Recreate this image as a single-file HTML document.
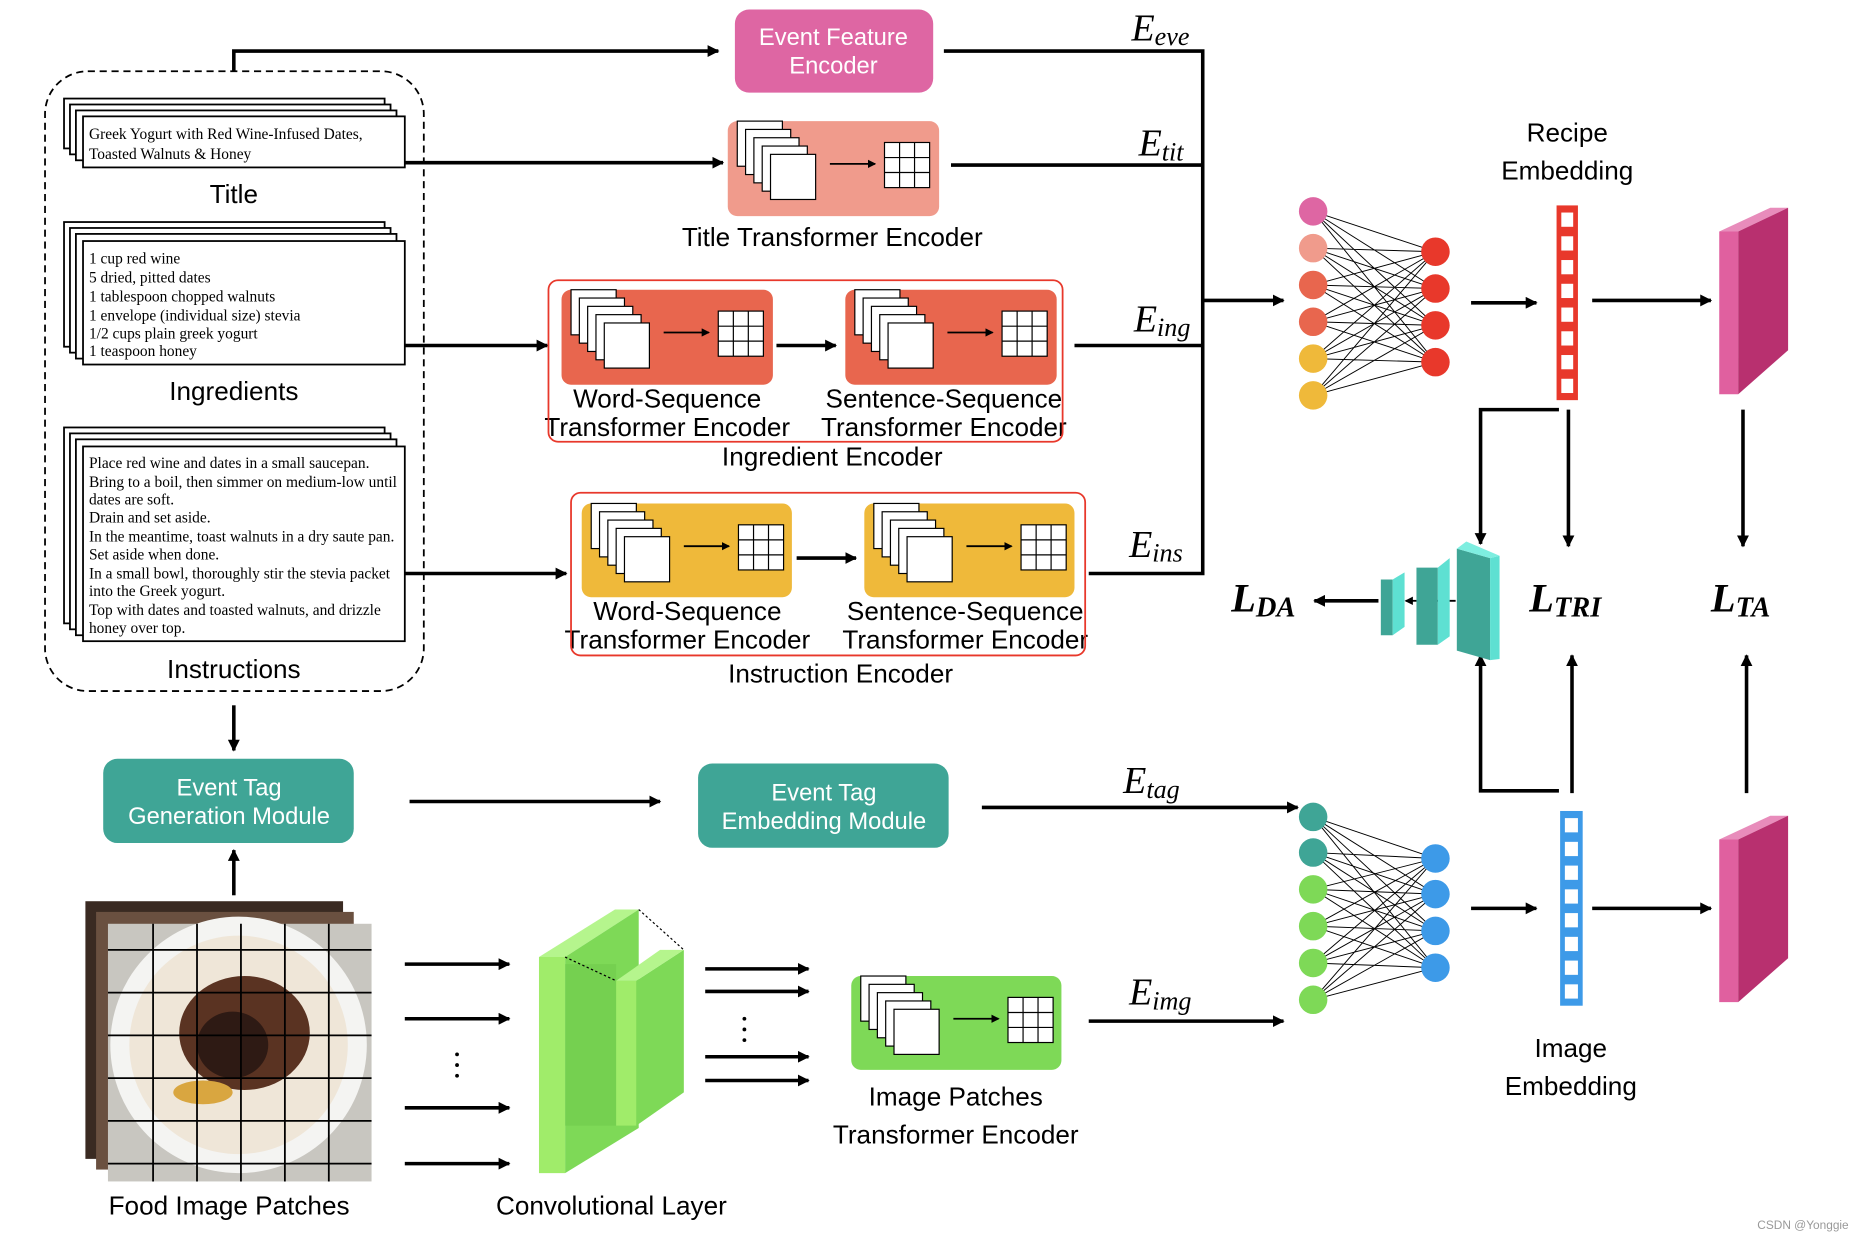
<!DOCTYPE html>
<html><head><meta charset="utf-8"><style>
html,body{margin:0;padding:0;background:#fff}
svg{display:block}
text{font-family:"Liberation Sans",sans-serif}
.s text{font-family:"Liberation Serif",serif}
text.e{font-family:"Liberation Serif",serif;font-style:italic;font-size:32px}
text.L{font-family:"Liberation Serif",serif;font-style:italic;font-weight:bold;font-size:34px}
</style></head><body>
<svg width="1864" height="1242" viewBox="0 0 1568 1046" xmlns="http://www.w3.org/2000/svg">
<defs>
<marker id="a" markerWidth="10" markerHeight="10" refX="9" refY="5" orient="auto" markerUnits="userSpaceOnUse"><path d="M0,0 L10,5 L0,10 z" fill="#000"/></marker>
<marker id="as" markerWidth="7" markerHeight="7" refX="6" refY="3.5" orient="auto" markerUnits="userSpaceOnUse"><path d="M0,0 L7,3.5 L0,7 z" fill="#000"/></marker>
<g id="enc">
<rect x="8" y="6" width="38" height="38" fill="#fff" stroke="#000"/>
<rect x="15" y="13" width="38" height="38" fill="#fff" stroke="#000"/>
<rect x="22" y="20" width="38" height="38" fill="#fff" stroke="#000"/>
<rect x="29" y="27" width="38" height="38" fill="#fff" stroke="#000"/>
<rect x="36" y="34" width="38" height="38" fill="#fff" stroke="#000"/>
<line x1="86" y1="42" x2="124" y2="42" stroke="#000" stroke-width="1.5" marker-end="url(#as)"/>
<rect x="132" y="24" width="38" height="38" fill="#fff" stroke="#000"/>
<path d="M144.7,24v38M157.3,24v38M132,36.7h38M132,49.3h38" stroke="#000"/>
</g>
</defs>
<g stroke="#000" stroke-width="3" fill="none">
<polyline points="196,60 196,43 604,43" marker-end="url(#a)"/>
<line x1="340" y1="137" x2="608" y2="137" marker-end="url(#a)"/>
<line x1="340" y1="291" x2="460" y2="291" marker-end="url(#a)"/>
<line x1="340" y1="483" x2="476" y2="483" marker-end="url(#a)"/>
<line x1="653" y1="291" x2="703" y2="291" marker-end="url(#a)"/>
<line x1="670" y1="470" x2="720" y2="470" marker-end="url(#a)"/>
<polyline points="794,43 1012,43 1012,483 916,483"/>
<line x1="800" y1="139" x2="1012" y2="139"/>
<line x1="904" y1="291" x2="1012" y2="291"/>
<line x1="1012" y1="253" x2="1080" y2="253" marker-end="url(#a)"/>
<line x1="1238" y1="255" x2="1293" y2="255" marker-end="url(#a)"/>
<line x1="1340" y1="253" x2="1440" y2="253" marker-end="url(#a)"/>
<line x1="1238" y1="765" x2="1293" y2="765" marker-end="url(#a)"/>
<line x1="1340" y1="765" x2="1440" y2="765" marker-end="url(#a)"/>
<line x1="196" y1="594" x2="196" y2="632" marker-end="url(#a)"/>
<line x1="196" y1="754" x2="196" y2="716" marker-end="url(#a)"/>
<line x1="344" y1="675" x2="555" y2="675" marker-end="url(#a)"/>
<line x1="826" y1="680" x2="1092" y2="680" marker-end="url(#a)"/>
<line x1="916" y1="860" x2="1080" y2="860" marker-end="url(#a)"/>
<line x1="340" y1="812" x2="428" y2="812" marker-end="url(#a)"/>
<line x1="340" y1="858" x2="428" y2="858" marker-end="url(#a)"/>
<line x1="340" y1="933" x2="428" y2="933" marker-end="url(#a)"/>
<line x1="340" y1="980" x2="428" y2="980" marker-end="url(#a)"/>
<line x1="593" y1="816" x2="680" y2="816" marker-end="url(#a)"/>
<line x1="593" y1="835" x2="680" y2="835" marker-end="url(#a)"/>
<line x1="593" y1="890" x2="680" y2="890" marker-end="url(#a)"/>
<line x1="593" y1="910" x2="680" y2="910" marker-end="url(#a)"/>
<polyline points="1312,345 1246,345 1246,458" marker-end="url(#a)"/>
<line x1="1320" y1="345" x2="1320" y2="460" marker-end="url(#a)"/>
<line x1="1467" y1="345" x2="1467" y2="460" marker-end="url(#a)"/>
<polyline points="1312,666 1246,666 1246,552" marker-end="url(#a)"/>
<line x1="1323" y1="668" x2="1323" y2="552" marker-end="url(#a)"/>
<line x1="1470" y1="668" x2="1470" y2="552" marker-end="url(#a)"/>
<line x1="1160" y1="506" x2="1106" y2="506" marker-end="url(#a)"/>
</g>
<g stroke="#000" stroke-width="1.5"><line x1="1225" y1="506" x2="1200" y2="506" marker-end="url(#as)"/><line x1="1192" y1="506" x2="1183" y2="506" marker-end="url(#as)"/></g>
<g fill="#000"><circle cx="384" cy="888" r="1.6"/><circle cx="384" cy="897" r="1.6"/><circle cx="384" cy="906" r="1.6"/><circle cx="626" cy="858" r="1.6"/><circle cx="626" cy="867" r="1.6"/><circle cx="626" cy="876" r="1.6"/></g>

<rect x="37" y="60" width="319" height="522" rx="36" fill="none" stroke="#000" stroke-width="1.5" stroke-dasharray="6,4"/>
<g fill="#fff" stroke="#000" stroke-width="1.5">
<rect x="53" y="83" width="270" height="42"/><rect x="58" y="88" width="270" height="42"/><rect x="63" y="93" width="270" height="42"/><rect x="69" y="98" width="271" height="43"/>
<rect x="53" y="187" width="270" height="105"/><rect x="58" y="192" width="270" height="105"/><rect x="63" y="197" width="270" height="105"/><rect x="69" y="203" width="271" height="104"/>
<rect x="53" y="360" width="270" height="165"/><rect x="58" y="365" width="270" height="165"/><rect x="63" y="370" width="270" height="165"/><rect x="69" y="376" width="271" height="164"/>
</g>
<g class="s" font-size="13" fill="#000">
<text x="74" y="117">Greek Yogurt with Red Wine-Infused Dates,</text><text x="74" y="134">Toasted Walnuts &amp; Honey</text>
<text x="74" y="222">1 cup red wine</text><text x="74" y="238">5 dried, pitted dates</text><text x="74" y="254">1 tablespoon chopped walnuts</text><text x="74" y="270">1 envelope (individual size) stevia</text><text x="74" y="285">1/2 cups plain greek yogurt</text><text x="74" y="300">1 teaspoon honey</text>
<text x="74" y="394">Place red wine and dates in a small saucepan.</text><text x="74" y="410">Bring to a boil, then simmer on medium-low until</text><text x="74" y="425">dates are soft.</text><text x="74" y="440">Drain and set aside.</text><text x="74" y="456">In the meantime, toast walnuts in a dry saute pan.</text><text x="74" y="471">Set aside when done.</text><text x="74" y="487">In a small bowl, thoroughly stir the stevia packet</text><text x="74" y="502">into the Greek yogurt.</text><text x="74" y="518">Top with dates and toasted walnuts, and drizzle</text><text x="74" y="533">honey over top.</text>
</g>
<g font-size="22" text-anchor="middle" fill="#000">
<text x="196" y="171">Title</text><text x="196" y="337">Ingredients</text><text x="196" y="571">Instructions</text>
<text x="700" y="207">Title Transformer Encoder</text>
<text x="561" y="343">Word-Sequence</text><text x="561" y="367">Transformer Encoder</text>
<text x="794" y="343">Sentence-Sequence</text><text x="794" y="367">Transformer Encoder</text>
<text x="700" y="392">Ingredient Encoder</text>
<text x="578" y="522">Word-Sequence</text><text x="578" y="546">Transformer Encoder</text>
<text x="812" y="522">Sentence-Sequence</text><text x="812" y="546">Transformer Encoder</text>
<text x="707" y="575">Instruction Encoder</text>
<text x="1319" y="119">Recipe</text><text x="1319" y="151">Embedding</text>
<text x="1322" y="890">Image</text><text x="1322" y="922">Embedding</text>
<text x="804" y="931">Image Patches</text><text x="804" y="963">Transformer Encoder</text>
<text x="192" y="1023">Food Image Patches</text><text x="514" y="1023">Convolutional Layer</text>
</g>
<rect x="618" y="8" width="167" height="70" rx="12" fill="#de66a3"/>
<g font-size="20" fill="#fff" text-anchor="middle"><text x="701" y="38">Event Feature</text><text x="701" y="62">Encoder</text></g>
<rect x="612" y="102" width="178" height="80" rx="8" fill="#f09b8c"/>
<g transform="translate(612,96)"><use href="#enc"/></g>
<rect x="461" y="236" width="433" height="136" rx="8" fill="none" stroke="#e8382b" stroke-width="1.5"/>
<rect x="472" y="244" width="178" height="80" rx="8" fill="#e8664e"/>
<rect x="711" y="244" width="178" height="80" rx="8" fill="#e8664e"/>
<g transform="translate(472,238)"><use href="#enc"/></g><g transform="translate(711,238)"><use href="#enc"/></g>
<rect x="480" y="415" width="433" height="137" rx="8" fill="none" stroke="#e8382b" stroke-width="1.5"/>
<rect x="489" y="424" width="177" height="79" rx="8" fill="#efb93a"/>
<rect x="727" y="424" width="177" height="79" rx="8" fill="#efb93a"/>
<g transform="translate(489,418)"><use href="#enc"/></g><g transform="translate(727,418)"><use href="#enc"/></g>
<rect x="716" y="822" width="177" height="79" rx="8" fill="#7ed957"/>
<g transform="translate(716,816)"><use href="#enc"/></g>
<rect x="86" y="639" width="211" height="71" rx="12" fill="#3fa596"/>
<rect x="587" y="643" width="211" height="71" rx="12" fill="#3fa596"/>
<g font-size="20" fill="#fff" text-anchor="middle"><text x="192" y="670">Event Tag</text><text x="192" y="694">Generation Module</text><text x="693" y="674">Event Tag</text><text x="693" y="698">Embedding Module</text></g>
<text class="e" x="952" y="34">E<tspan font-size="22" dy="4">eve</tspan></text>
<text class="e" x="958" y="131">E<tspan font-size="22" dy="4">tit</tspan></text>
<text class="e" x="954" y="279">E<tspan font-size="22" dy="4">ing</tspan></text>
<text class="e" x="950" y="469">E<tspan font-size="22" dy="4">ins</tspan></text>
<text class="e" x="945" y="668">E<tspan font-size="22" dy="4">tag</tspan></text>
<text class="e" x="950" y="846">E<tspan font-size="22" dy="4">img</tspan></text>
<g stroke="#000" stroke-width="0.8">
<path d="M1105,178L1208,212M1105,178L1208,243M1105,178L1208,274M1105,178L1208,305M1105,209L1208,212M1105,209L1208,243M1105,209L1208,274M1105,209L1208,305M1105,240L1208,212M1105,240L1208,243M1105,240L1208,274M1105,240L1208,305M1105,271L1208,212M1105,271L1208,243M1105,271L1208,274M1105,271L1208,305M1105,302L1208,212M1105,302L1208,243M1105,302L1208,274M1105,302L1208,305M1105,333L1208,212M1105,333L1208,243M1105,333L1208,274M1105,333L1208,305"/>
<path d="M1105,688L1208,723M1105,688L1208,753M1105,688L1208,784M1105,688L1208,815M1105,718L1208,723M1105,718L1208,753M1105,718L1208,784M1105,718L1208,815M1105,749L1208,723M1105,749L1208,753M1105,749L1208,784M1105,749L1208,815M1105,780L1208,723M1105,780L1208,753M1105,780L1208,784M1105,780L1208,815M1105,811L1208,723M1105,811L1208,753M1105,811L1208,784M1105,811L1208,815M1105,842L1208,723M1105,842L1208,753M1105,842L1208,784M1105,842L1208,815"/>
</g>
<circle cx="1105" cy="178" r="12" fill="#de66a3"/><circle cx="1105" cy="209" r="12" fill="#f09b8c"/><circle cx="1105" cy="240" r="12" fill="#e8664e"/><circle cx="1105" cy="271" r="12" fill="#e8664e"/><circle cx="1105" cy="302" r="12" fill="#efb93a"/><circle cx="1105" cy="333" r="12" fill="#efb93a"/>
<g fill="#e8382b"><circle cx="1208" cy="212" r="12"/><circle cx="1208" cy="243" r="12"/><circle cx="1208" cy="274" r="12"/><circle cx="1208" cy="305" r="12"/></g>
<circle cx="1105" cy="688" r="12" fill="#3fa596"/><circle cx="1105" cy="718" r="12" fill="#3fa596"/>
<g fill="#7ed957"><circle cx="1105" cy="749" r="12"/><circle cx="1105" cy="780" r="12"/><circle cx="1105" cy="811" r="12"/><circle cx="1105" cy="842" r="12"/></g>
<g fill="#3d9ae8"><circle cx="1208" cy="723" r="12"/><circle cx="1208" cy="753" r="12"/><circle cx="1208" cy="784" r="12"/><circle cx="1208" cy="815" r="12"/></g>
<rect x="1310" y="173" width="18" height="164" fill="#e8382b"/>
<g fill="#fff"><rect x="1314" y="179" width="10" height="12"/><rect x="1314" y="199" width="10" height="12"/><rect x="1314" y="219" width="10" height="12"/><rect x="1314" y="239" width="10" height="12"/><rect x="1314" y="259" width="10" height="12"/><rect x="1314" y="279" width="10" height="12"/><rect x="1314" y="299" width="10" height="12"/><rect x="1314" y="319" width="10" height="12"/></g>
<rect x="1313" y="683" width="19" height="164" fill="#3d9ae8"/>
<g fill="#fff"><rect x="1317" y="689" width="11" height="12"/><rect x="1317" y="709" width="11" height="12"/><rect x="1317" y="729" width="11" height="12"/><rect x="1317" y="749" width="11" height="12"/><rect x="1317" y="769" width="11" height="12"/><rect x="1317" y="789" width="11" height="12"/><rect x="1317" y="809" width="11" height="12"/><rect x="1317" y="829" width="11" height="12"/></g>
<polygon points="1447,195 1463,195 1463,332 1447,332" fill="#e0609f"/><polygon points="1447,195 1490,175 1505,175 1463,195" fill="#e88cbb"/><polygon points="1463,195 1505,175 1505,295 1463,332" fill="#b8306f"/>
<polygon points="1447,707 1463,707 1463,844 1447,844" fill="#e0609f"/><polygon points="1447,707 1490,687 1505,687 1463,707" fill="#e88cbb"/><polygon points="1463,707 1505,687 1505,807 1463,844" fill="#b8306f"/>
<polygon points="1162,488 1172,488 1172,535 1162,535" fill="#3fa596"/><polygon points="1172,488 1182,482 1182,528 1172,535" fill="#5ee0d2"/>
<polygon points="1192,478 1210,478 1210,543 1192,543" fill="#3fa596"/><polygon points="1210,478 1220,470 1220,536 1210,543" fill="#5ee0d2"/>
<polygon points="1226,462 1254,470 1254,556 1226,548" fill="#3fa596"/><polygon points="1254,470 1262,468 1262,555 1254,556" fill="#5ee0d2"/><polygon points="1226,462 1234,456 1262,468 1254,470" fill="#7eeee0"/>
<text class="L" x="1036" y="515">L<tspan font-size="24" dy="4">DA</tspan></text>
<text class="L" x="1287" y="515">L<tspan font-size="24" dy="4">TRI</tspan></text>
<text class="L" x="1440" y="515">L<tspan font-size="24" dy="4">TA</tspan></text>
<rect x="71" y="759" width="217" height="217" fill="#3a2a22"/>
<rect x="80" y="768" width="217" height="217" fill="#6a5040"/>
<rect x="90" y="778" width="222" height="217" fill="#c8c6c0"/>
<circle cx="200" cy="880" r="108" fill="#f4f4f2"/>
<circle cx="200" cy="880" r="92" fill="#efe6d8"/>
<ellipse cx="205" cy="870" rx="55" ry="48" fill="#5a3322"/>
<ellipse cx="195" cy="880" rx="30" ry="28" fill="#2e1a14"/>
<ellipse cx="170" cy="920" rx="25" ry="10" fill="#d9a640"/>
<g stroke="#000" stroke-width="1.5"><path d="M90,800H312M90,836H312M90,872H312M90,908H312M90,944H312M90,980H312M128,778V995M165,778V995M202,778V995M239,778V995M276,778V995"/></g>
<polygon points="453,806 517,766 537,766 475,806" fill="#b5f58d"/>
<polygon points="475,806 537,766 537,950 475,988" fill="#7ed957"/>
<polygon points="453,806 475,806 475,988 453,988" fill="#a0ec6a"/>
<polygon points="475,812 518,812 518,948 475,948" fill="#6cc84a" opacity="0.5"/>
<polygon points="518,826 535,826 535,948 518,948" fill="#a0ec6a"/>
<polygon points="535,826 575,800 575,920 535,948" fill="#7ed957"/>
<polygon points="518,826 555,800 575,800 535,826" fill="#b5f58d"/>
<path d="M537,766L575,800" stroke="#000" stroke-dasharray="2,2"/>
<path d="M475,806L518,826" stroke="#000" stroke-dasharray="2,2"/>
<text x="1556" y="1035" font-size="10" fill="#999" text-anchor="end">CSDN @Yonggie</text>
</svg>
</body></html>
